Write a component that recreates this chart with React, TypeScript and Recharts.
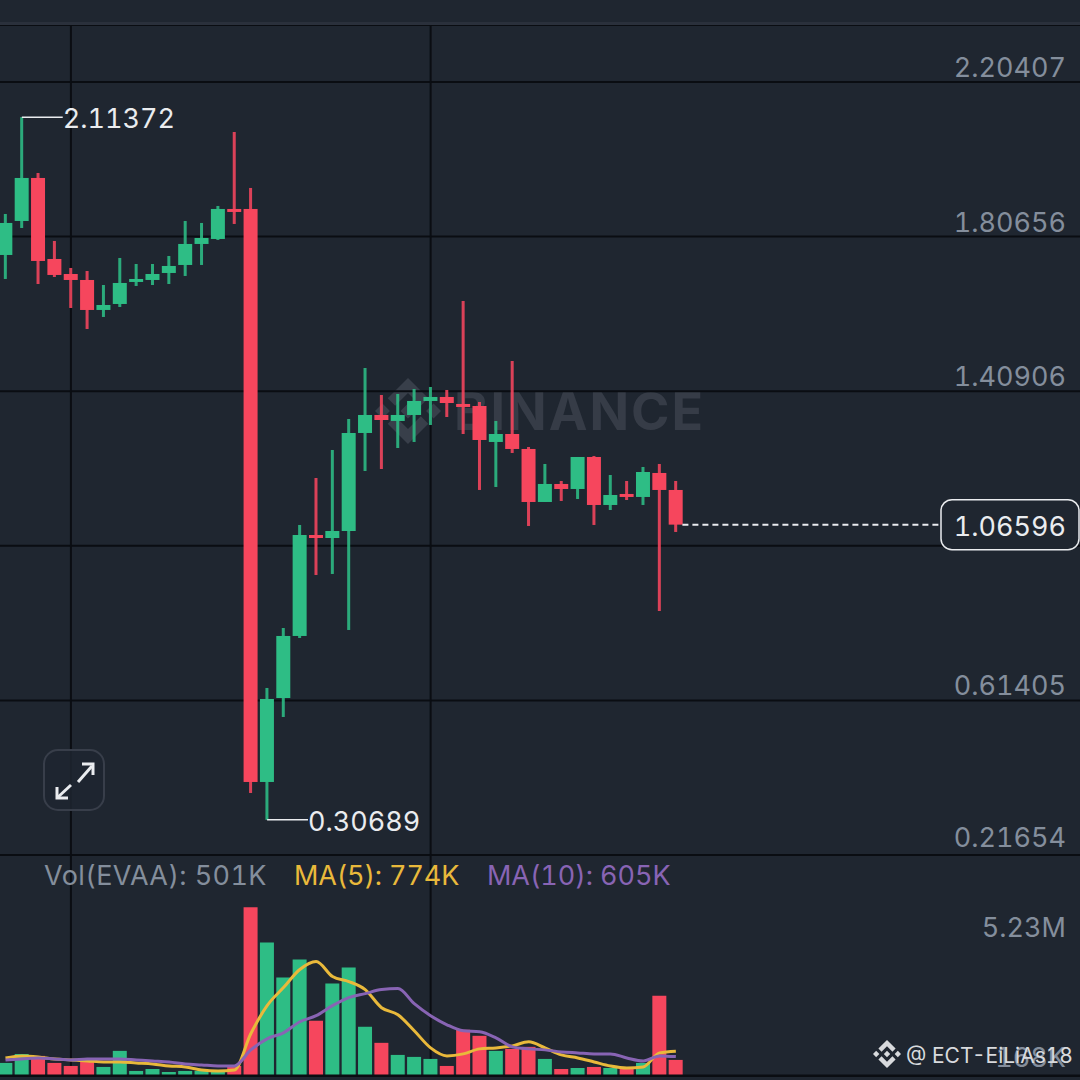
import {
  Bar,
  CartesianGrid,
  Cell,
  ComposedChart,
  Line,
  ReferenceDot,
  ReferenceLine,
  XAxis,
  YAxis,
} from "recharts";

const BG = "#1f2630";
const GRID = "#0a0d12";
const GREEN = "#2ebd85";
const RED = "#f6465d";
const MUTED = "#848e9c";
const WHITE = "#eaecef";
const YELLOW = "#e9b93b";
const PURPLE = "#8864b4";
const FONT = "Inter, 'Open Sans', sans-serif";

const priceTicks = [2.20407, 1.80656, 1.40906, 1.01155, 0.61405, 0.21654];
const hiddenPriceTick = 1.01155; // covered by the last price tag
const volumeTicks = [168, 5230];
const timeGridCandles = [4, 26];
const lastPrice = 1.06596;
const maxPrice = 2.11372;
const minPrice = 0.30689;

const opens = [
  1.7593, 1.8467, 1.9573, 1.749, 1.7104, 1.695, 1.6179, 1.6333, 1.6899, 1.695, 1.713, 1.7336, 1.7876, 1.8004,
  1.8776, 1.8776, 0.4043, 0.6202, 0.7797, 1.0393, 1.0316, 1.0496, 1.3016, 1.3479, 1.3325, 1.3479, 1.3839, 1.3942,
  1.3762, 1.371, 1.2785, 1.299, 1.2605, 1.1242, 1.1705, 1.1576, 1.2399, 1.1165, 1.1448, 1.1371, 1.1988, 1.1551,
];
const highs = [
  1.8647, 2.11372, 1.9701, 1.7953, 1.7259, 1.7181, 1.6821, 1.7516, 1.7361, 1.7361, 1.7567, 1.8467, 1.8416, 1.8853,
  2.0755, 1.9316, 0.646, 0.8002, 1.0651, 1.1859, 1.2579, 1.3376, 1.4687, 1.3993, 1.4019, 1.4147, 1.4199, 1.4122,
  1.641, 1.3813, 1.3325, 1.4867, 1.2656, 1.2219, 1.1782, 1.2399, 1.2425, 1.1936, 1.1782, 1.2142, 1.2219, 1.1782,
];
const lows = [
  1.6976, 1.8287, 1.6847, 1.7027, 1.623, 1.569, 1.5999, 1.6256, 1.6796, 1.6821, 1.6847, 1.7053, 1.7336, 1.7979,
  1.839, 0.376, 0.30689, 0.5714, 0.7745, 0.9365, 0.9391, 0.7951, 1.2039, 1.209, 1.263, 1.2785, 1.3222, 1.3427,
  1.299, 1.1551, 1.1628, 1.2502, 1.0625, 1.1242, 1.1268, 1.1319, 1.0651, 1.1036, 1.1293, 1.1165, 0.8439, 1.0471,
];
const closes = [
  1.8416, 1.9573, 1.7439, 1.7079, 1.695, 1.6179, 1.6307, 1.6873, 1.6976, 1.7104, 1.731, 1.7876, 1.803, 1.8776,
  1.8724, 0.4043, 0.6177, 0.7797, 1.0393, 1.0316, 1.0496, 1.3016, 1.3479, 1.335, 1.3479, 1.3839, 1.3942, 1.3787,
  1.3685, 1.2836, 1.299, 1.2605, 1.1242, 1.1705, 1.1576, 1.2399, 1.1165, 1.1422, 1.1371, 1.2013, 1.1551, 1.06596,
];
// volumes in thousands
const volumes = [
  407, 689, 626, 407, 313, 470, 282, 783, 157, 219, 125, 157, 157, 157, 313, 5258, 4163, 3067, 3631, 1722, 2880,
  3380, 1534, 1033, 657, 595, 532, 313, 1440, 1252, 783, 845, 908, 532, 219, 250, 282, 250, 250, 407, 2504, 501,
];
const ma5 = [
  563, 626, 595, 532, 501, 470, 438, 438, 407, 376, 313, 282, 188, 157, 188, 1315, 2191, 2754, 3318, 3568, 3099,
  2942, 2692, 2128, 1909, 1409, 876, 626, 689, 845, 876, 939, 1064, 876, 657, 563, 438, 313, 250, 282, 720, 774,
];
const ma10 = [
  501, 532, 563, 532, 501, 532, 532, 532, 501, 470, 438, 376, 344, 313, 313, 814, 1158, 1346, 1690, 1878, 2191,
  2441, 2567, 2692, 2723, 2254, 1878, 1596, 1409, 1377, 1189, 908, 845, 814, 751, 720, 689, 689, 563, 470, 626, 605,
];

const rows = opens.map((open, i) => ({
  i,
  open,
  high: highs[i],
  low: lows[i],
  close: closes[i],
  volume: volumes[i],
  ma5: ma5[i],
  ma10: ma10[i],
}));

const X_DOMAIN = [-0.337, 65.718];
const candleWidth = 14;
const LABEL_X = 1066;

function formatVolume(v: number) {
  return v >= 1000 ? `${(v / 1000).toFixed(2)}M` : `${v}K`;
}

function Candle(props: any) {
  const { x, y, width, height, payload } = props;
  const { open, close, high, low } = payload;
  const color = close >= open ? GREEN : RED;
  const k = height / (high - low);
  const top = y + (high - Math.max(open, close)) * k;
  const bodyH = Math.max(Math.abs(open - close) * k, 3);
  return (
    <g>
      <rect x={x + width / 2 - 1.5} y={y} width={3} height={height} fill={color} fillOpacity={0.88} />
      <rect x={x} y={top} width={width} height={bodyH} fill={color} />
    </g>
  );
}

function PriceTick(props: any) {
  const { y, payload } = props;
  if (payload.value === hiddenPriceTick) return <g />;
  // lowest label is pushed up a little to stay clear of the pane edge
  const dy = payload.value < 0.3 ? -8 : -5;
  return (
    <text x={LABEL_X} y={y + dy} textAnchor="end" fill={MUTED} fontSize={27} fontFamily={FONT}>
      {payload.value.toFixed(5)}
    </text>
  );
}

function VolumeTick(props: any) {
  const { y, payload } = props;
  // the top label hangs under its level, the bottom one sits on it
  const dy = payload.value > 1000 ? 29 : -4;
  return (
    <text x={LABEL_X} y={y + dy} textAnchor="end" fill={MUTED} fontSize={27} fontFamily={FONT}>
      {formatVolume(payload.value)}
    </text>
  );
}

function ExtremeLabel(props: any) {
  const { cx, cy, value } = props;
  return (
    <text x={cx} y={cy + 11} fill={WHITE} fontSize={27} fontFamily={FONT}>
      {value.toFixed(5)}
    </text>
  );
}

function LastPriceTag(props: any) {
  const { cy } = props;
  return (
    <g>
      <rect x={941} y={cy - 25} width={138} height={50} rx={11} fill={BG} stroke={WHITE} strokeWidth={1.5} />
      <text x={LABEL_X} y={cy + 11} textAnchor="end" fill={WHITE} fontSize={27} fontFamily={FONT}>
        {lastPrice.toFixed(5)}
      </text>
    </g>
  );
}

function BinanceLogo({ x, y, size, fill }: { x: number; y: number; size: number; fill: string }) {
  return (
    <svg x={x} y={y} width={size} height={size} viewBox="0 0 126.61 126.61">
      <g fill={fill}>
        <path d="M38.73 53.2L63.31 28.62l24.59 24.59 14.3-14.3L63.31 0 24.43 38.9z" />
        <path d="M0 63.31l14.3-14.3 14.3 14.3-14.3 14.3z" />
        <path d="M38.73 73.41L63.31 98l24.59-24.59 14.3 14.29L63.31 126.61 24.43 87.72z" />
        <path d="M98 63.31l14.3-14.3 14.3 14.3-14.3 14.3z" />
        <path d="M77.83 63.3L63.31 48.78 52.59 59.5l-1.24 1.23-2.54 2.54 14.5 14.5 14.52-14.5z" />
      </g>
    </svg>
  );
}

export default function App() {
  return (
    <div
      style={{
        position: "absolute",
        left: 0,
        top: 0,
        width: 1080,
        height: 1080,
        background: BG,
        overflow: "hidden",
        fontVariantNumeric: "tabular-nums",
      }}
    >
      {/* top band */}
      <div style={{ position: "absolute", left: 0, top: 22, width: 1080, height: 3, background: "#2a303b" }} />

      {/* watermark sits under the candles */}
      <svg style={{ position: "absolute", left: 0, top: 0 }} width={1080} height={1080}>
        <BinanceLogo x={375} y={378} size={66} fill="#383f4a" />
        <text x={454} y={430} fill="#363c47" fontSize={52} fontWeight={700} fontFamily={FONT} letterSpacing={2}>
          BINANCE
        </text>
      </svg>

      <div style={{ position: "absolute", left: 0, top: 25 }}>
        <ComposedChart width={1080} height={831} data={rows} margin={{ top: 0, right: 0, bottom: 1, left: 0 }}>
          <CartesianGrid horizontal vertical verticalValues={timeGridCandles} stroke={GRID} strokeWidth={2} />
          <XAxis hide type="number" dataKey="i" domain={X_DOMAIN} allowDataOverflow />
          <YAxis
            orientation="right"
            mirror
            width={120}
            domain={[0.21654, 2.3506]}
            ticks={priceTicks}
            interval={0}
            allowDataOverflow
            axisLine={false}
            tickLine={false}
            tick={<PriceTick />}
          />
          <Bar
            dataKey={(d: any) => [d.low, d.high]}
            barSize={candleWidth}
            shape={<Candle />}
            isAnimationActive={false}
          />
          <ReferenceLine segment={[{ x: 1, y: maxPrice }, { x: 3.5, y: maxPrice }]} stroke={WHITE} strokeWidth={1.5} />
          <ReferenceDot x={3.5} y={maxPrice} r={0} shape={<ExtremeLabel value={maxPrice} />} />
          <ReferenceLine segment={[{ x: 16, y: minPrice }, { x: 18.5, y: minPrice }]} stroke={WHITE} strokeWidth={1.5} />
          <ReferenceDot x={18.5} y={minPrice} r={0} shape={<ExtremeLabel value={minPrice} />} />
          <ReferenceLine
            segment={[{ x: 41.4, y: lastPrice }, { x: 57.2, y: lastPrice }]}
            stroke={WHITE}
            strokeWidth={2}
            strokeDasharray="6 4"
          />
          <ReferenceDot x={60} y={lastPrice} r={0} shape={<LastPriceTag />} />
        </ComposedChart>
      </div>

      <div style={{ position: "absolute", left: 0, top: 856 }}>
        <ComposedChart width={1080} height={221} data={rows} margin={{ top: 0, right: 0, bottom: 1, left: 0 }}>
          <CartesianGrid horizontal={false} vertical verticalValues={timeGridCandles} stroke={GRID} strokeWidth={2} />
          <XAxis hide type="number" dataKey="i" domain={X_DOMAIN} allowDataOverflow />
          <YAxis
            orientation="right"
            mirror
            width={120}
            domain={[0, 6854]}
            ticks={volumeTicks}
            interval={0}
            allowDataOverflow
            axisLine={false}
            tickLine={false}
            tick={<VolumeTick />}
          />
          <ReferenceLine y={0} stroke={GRID} strokeWidth={3} />
          <Bar dataKey="volume" barSize={candleWidth} isAnimationActive={false}>
            {rows.map((r) => (
              <Cell key={r.i} fill={r.close >= r.open ? GREEN : RED} />
            ))}
          </Bar>
          <Line dataKey="ma5" type="monotone" stroke={YELLOW} strokeWidth={3} dot={false} isAnimationActive={false} />
          <Line dataKey="ma10" type="monotone" stroke={PURPLE} strokeWidth={3} dot={false} isAnimationActive={false} />
        </ComposedChart>
      </div>

      {/* legend, expand button and watermark handle */}
      <svg style={{ position: "absolute", left: 0, top: 0, pointerEvents: "none" }} width={1080} height={1080}>
        <g fontFamily={FONT} fontSize={27}>
          <text x={44} y={885} fill={MUTED} letterSpacing={0.4}>Vol(EVAA): 501K</text>
          <text x={294} y={885} fill={YELLOW} letterSpacing={-0.15}>MA(5): 774K</text>
          <text x={487} y={885} fill={PURPLE} letterSpacing={-0.07}>MA(10): 605K</text>
        </g>
        <rect x={44} y={750} width={60} height={60} rx={14} fill={BG} fillOpacity={0.85} stroke="#383e4a" strokeWidth={2} />
        <g stroke={WHITE} strokeWidth={3} fill="none">
          <path d="M78 782 L92 766" />
          <path d="M82 764 H93 V775" />
          <path d="M71 785 L57 798" />
          <path d="M57 787 V798 H68" />
        </g>
        <BinanceLogo x={873} y={1040} size={28} fill="#d8dadd" />
        <text x={906} y={1063} fill="#d8dadd" fontSize={21} fontFamily={FONT}>@ ECT-EiLiAs18</text>
      </svg>
    </div>
  );
}
